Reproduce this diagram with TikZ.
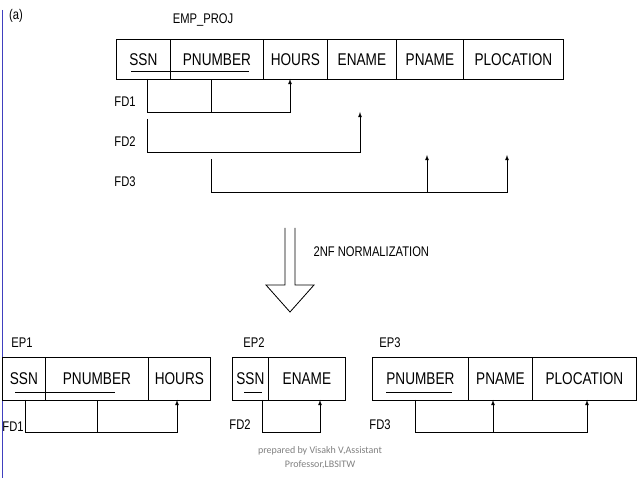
\documentclass[tikz,border=0pt]{standalone}
\usepackage{fontspec}
\setmainfont{Liberation Sans}[FakeStretch=0.8]
\newfontfamily\foot{Carlito}
\begin{document}
\begin{tikzpicture}[x=1pt,y=-1pt,
  cell/.style={draw,thick,minimum height=40pt,inner sep=0,anchor=north west,font=\fontsize{17}{17}\selectfont},
  lbl/.style={font=\fontsize{14}{14}\selectfont},
  fd/.style={thick},
  ar/.style={thick,-latex}]
\useasboundingbox (0,0) rectangle (638,478);
\draw[blue!50!gray] (2,10) -- (2,478);
\node[lbl] (a) at (16,16) {(a)};
\node[lbl] (emp) at (203,20) {EMP\_PROJ};
% top table
\foreach \n/\l/\r/\t in {s/116/170/SSN,p/170/263/PNUMBER,h/263/327/HOURS,e/327/396/ENAME,pn/396/463/PNAME,pl/463/563/PLOCATION}{
  \node[cell,minimum width={(\r-\l)*1pt},minimum height=40pt] (\n) at (\l,39) {\t};}
\draw (131,71) -- (249,71);
\node[lbl] (f1) at (125,102) {FD1};
\node[lbl] (f2) at (125,142) {FD2};
\node[lbl] (f3) at (125,182) {FD3};
\coordinate (c1) at (147,112);\coordinate (c2) at (211,112);
\draw[fd] (147,79) -- (c1) -- (c2) -- (211,79);
\draw[ar] (c2) -- (290,112) -- (290,79);
\draw[fd] (147,119) -- (147,152);
\draw[ar] (147,152) -- (360,152) -- (360,112);
\draw[fd] (211,159) -- (211,192) -- (427,192);
\draw[ar] (427,192) -- (427,155);
\draw[ar] (427,192) -- (507,192) -- (507,155);
% big arrow
\draw[thick] (285,228) -- (285,285) -- (266,285) -- (290,312) -- (314,285) -- (295,285) -- (295,228);
\node[lbl,anchor=west] (nf) at (310,252) {2NF NORMALIZATION};
% EP1
\node[lbl] (ep1) at (22,343) {EP1};
\foreach \n/\l/\r/\t in {a1/2/45/SSN,a2/45/148/PNUMBER,a3/148/210/HOURS}{
  \node[cell,minimum width={(\r-\l)*1pt},minimum height=43pt] (\n) at (\l,357) {\t};}
\draw (15,392) -- (115,392);
\node[lbl] (g1) at (13,427) {FD1};
\draw[fd] (25,400) -- (25,432) -- (97,432) -- (97,400);
\draw[ar] (97,432) -- (177,432) -- (177,400);
% EP2
\node[lbl] (ep2) at (254,343) {EP2};
\foreach \n/\l/\r/\t in {b1/232/268/SSN,b2/268/345/ENAME}{
  \node[cell,minimum width={(\r-\l)*1pt},minimum height=43pt] (\n) at (\l,357) {\t};}
\draw (244,392) -- (262,392);
\node[lbl] (g2) at (240,425) {FD2};
\draw[ar] (262,400) -- (262,432) -- (320,432) -- (320,400);
% EP3
\node[lbl] (ep3) at (390,343) {EP3};
\foreach \n/\l/\r/\t in {d1/372/468/PNUMBER,d2/468/532/PNAME,d3/532/636/PLOCATION}{
  \node[cell,minimum width={(\r-\l)*1pt},minimum height=43pt] (\n) at (\l,357) {\t};}
\draw (386,392) -- (452,392);
\node[lbl] (g3) at (380,425) {FD3};
\draw[fd] (415,400) -- (415,432) -- (493,432);
\draw[ar] (493,432) -- (493,400);
\draw[ar] (493,432) -- (587,432) -- (587,400);
\node[text=gray,font=\foot\fontsize{10}{14}\selectfont,align=center] (ft) at (320,458) {prepared by Visakh V,Assistant\\Professor,LBSITW};
\end{tikzpicture}
\end{document}
